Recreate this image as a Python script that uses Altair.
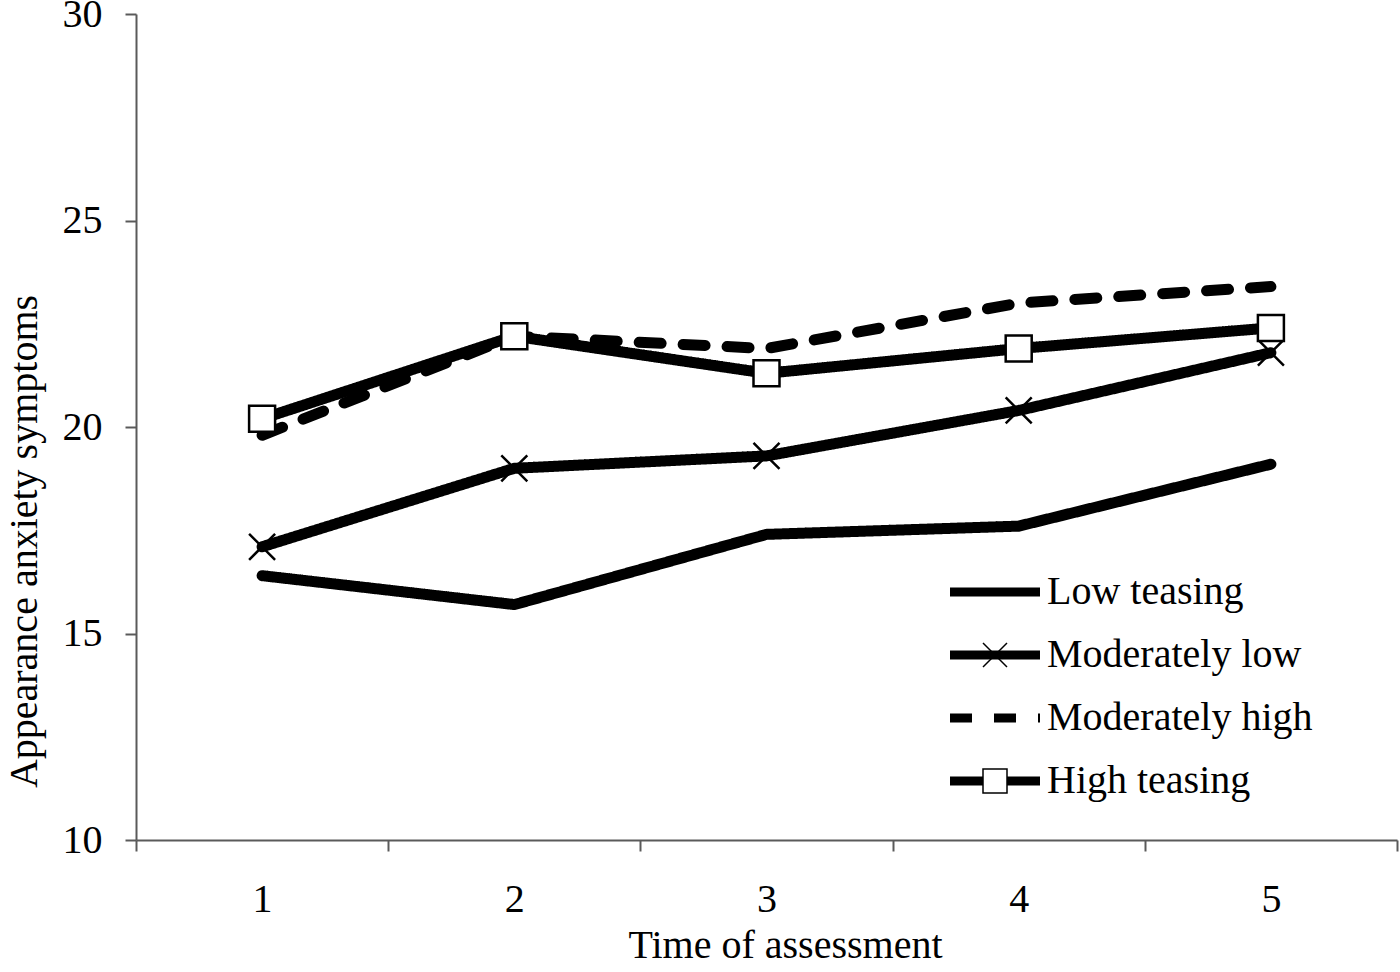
import altair as alt
import pandas as pd

times = ["1", "2", "3", "4", "5"]
groups = ["Low teasing", "Moderately low", "Moderately high", "High teasing"]
low_teasing = [16.4, 15.7, 17.4, 17.6, 19.1]
moderately_low = [17.1, 19.0, 19.3, 20.4, 21.8]
moderately_high = [19.8, 22.2, 21.9, 23.0, 23.4]
high_teasing = [20.2, 22.2, 21.3, 21.9, 22.4]
y_ticks = [10, 15, 20, 25, 30]

series = [low_teasing, moderately_low, moderately_high, high_teasing]
rows = []
for gi, (g, vals) in enumerate(zip(groups, series)):
    for t, v in zip(times, vals):
        rows.append({"time": t, "value": v, "group": g, "gi": str(gi)})
df = pd.DataFrame(rows)

FONT = "Liberation Serif"
AX = "#5a5a5a"
LX, LY = 839, 558

x_enc = alt.X(
    "time:O",
    scale=alt.Scale(type="band", paddingInner=0, paddingOuter=0),
    axis=alt.Axis(
        tickBand="extent", labelAngle=0, domainColor=AX, domainWidth=2,
        tickColor=AX, tickWidth=2, tickSize=11, labelFont=FONT,
        labelFontSize=40, labelColor="black", labelPadding=28,
        title="Time of assessment", titleFont=FONT, titleFontSize=40,
        titleFontWeight="normal", titleColor="black", titleX=649, titleY=117,
        titleAlign="center", titleBaseline="alphabetic",
    ),
)
y_enc = alt.Y(
    "value:Q",
    scale=alt.Scale(domain=[10, 30], nice=False, zero=False),
    axis=alt.Axis(
        values=y_ticks, grid=False, domainColor=AX, domainWidth=2,
        tickColor=AX, tickWidth=2, tickSize=11, labelFont=FONT,
        labelFontSize=40, labelColor="black", labelPadding=23,
        title="Appearance anxiety symptoms", titleFont=FONT, titleFontSize=40,
        titleFontWeight="normal", titleColor="black", titleX=-100, titleY=527,
        titleAngle=270, titleAlign="center", titleBaseline="alphabetic",
    ),
)

lines = alt.Chart(df).mark_line(
    color="black", strokeWidth=11, strokeCap="round", strokeJoin="round"
).encode(
    x=x_enc,
    y=y_enc,
    strokeDash=alt.StrokeDash(
        "group:N",
        scale=alt.Scale(domain=groups, range=[[1, 0], [1, 0], [22, 22], [1, 0]]),
        legend=alt.Legend(
            title=None, orient="none", legendX=LX, legendY=LY,
            symbolType="M-3.75,0H3.75", symbolSize=576, symbolStrokeWidth=9,
            symbolStrokeColor="black", labelFont=FONT, labelFontSize=40,
            labelColor="black", labelOffset=32, labelLimit=0, rowPadding=23,
            padding=0,
        ),
    ),
)

x_path = "M-1,-1L1,1M-1,1L1,-1"
points = alt.Chart(df).mark_point(
    filled=True, fill="white", stroke="black", strokeWidth=2.5, size=676, opacity=1
).encode(
    x=alt.X("time:O"),
    y=alt.Y("value:Q"),
    shape=alt.Shape(
        "gi:N",
        scale=alt.Scale(domain=["0", "1", "2", "3"],
                        range=["M0,0", x_path, "M0,0", "square"]),
        legend=alt.Legend(
            title=None, orient="none", legendX=LX, legendY=LY,
            symbolSize=576, labelFont=FONT, labelFontSize=40, labelExpr="''",
            labelOffset=32, labelLimit=0, rowPadding=23, padding=0, zindex=2,
        ),
    ),
)

chart = alt.layer(lines, points).properties(
    width=1261, height=826,
    autosize=alt.AutoSizeParams(type="none"),
    padding={"left": 136, "top": 14, "right": 3, "bottom": 132},
    background="white",
).configure_view(stroke=None)

chart.save("out.html", embed_options={"renderer": "svg", "actions": False})
